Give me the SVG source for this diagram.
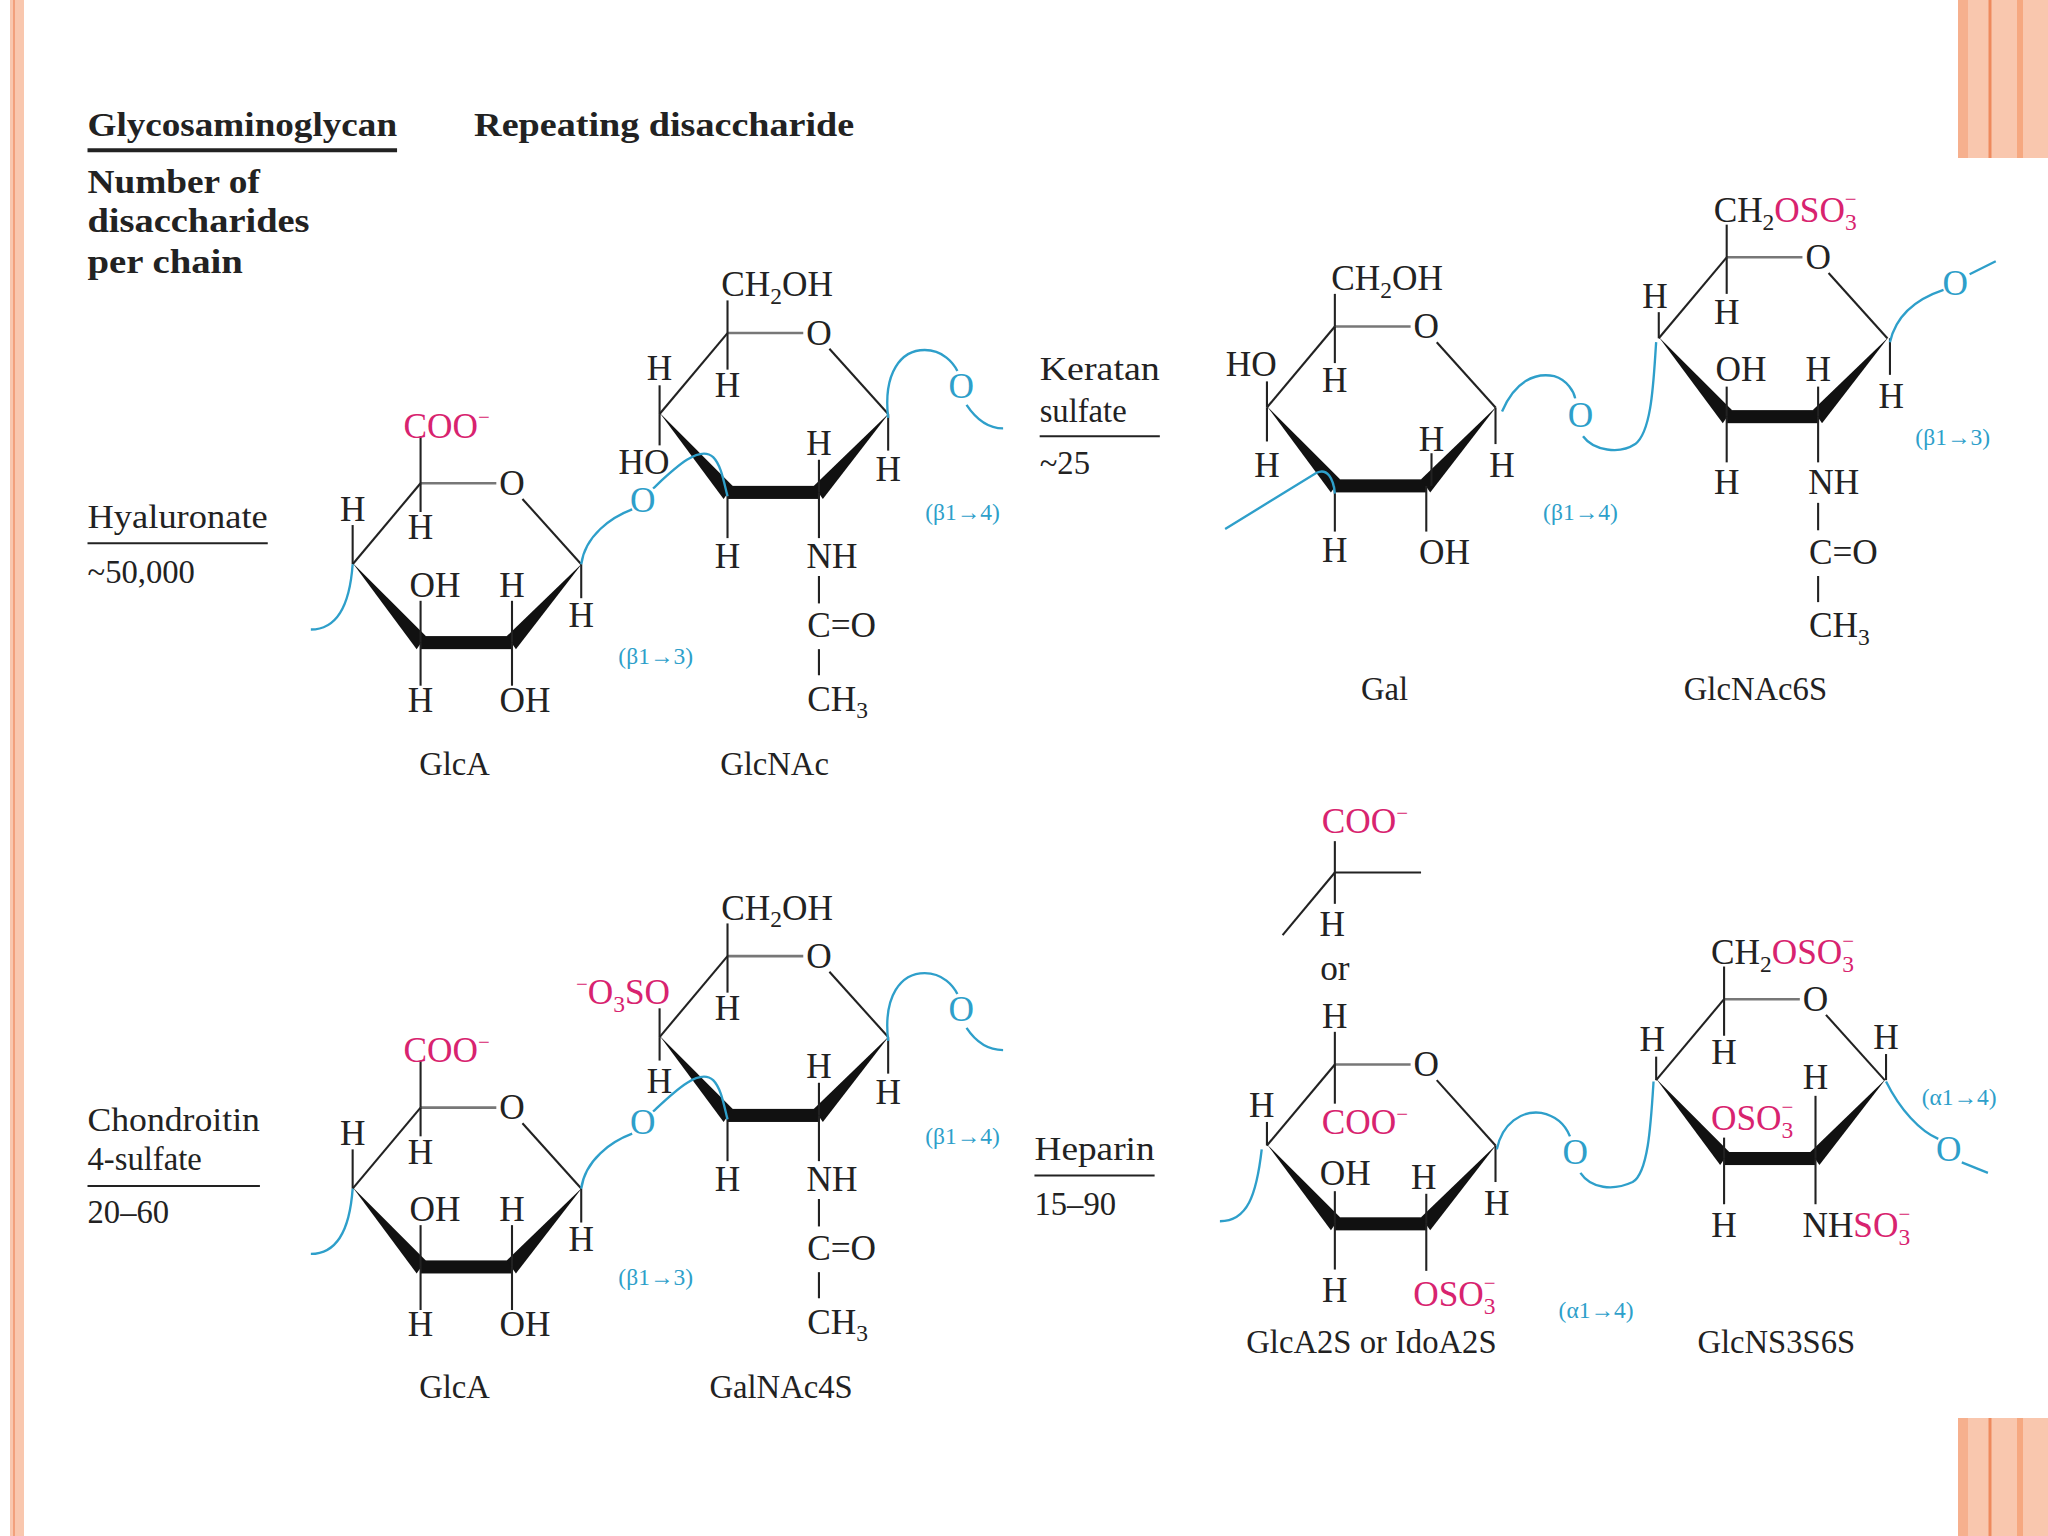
<svg xmlns="http://www.w3.org/2000/svg" xmlns:xlink="http://www.w3.org/1999/xlink" width="2048" height="1536" viewBox="0 0 2048 1536">
<style>
text{font-family:"Liberation Serif","DejaVu Serif",serif;font-size:27px;fill:#222}
.b{font-weight:bold;font-size:25px}
.l{font-size:25px}
.m{fill:#d8236f}
.c{fill:#2e9fca}
.sm{font-size:18px}
.ln{stroke:#222;stroke-width:1.6;fill:none}
.bl{stroke:#2e9fca;stroke-width:1.8;fill:none}
</style>
<defs>
<g id="ring">
<line x1="0" y1="0" x2="58" y2="0" stroke="#777" stroke-width="2"/>
<line x1="78" y1="12" x2="123" y2="62" class="ln"/>
<line x1="0" y1="0" x2="-52" y2="62" class="ln"/>
<polygon points="-52,61 -3,127 4,117" fill="#111"/>
<rect x="0" y="117" width="70" height="10" fill="#111"/>
<polygon points="66,117 73,127 124,61" fill="#111"/>
<text x="70" y="9" text-anchor="middle">O</text>
</g>
</defs>
<rect width="2048" height="1536" fill="#fff"/>
<g id="decor">
<rect x="10" y="0" width="14" height="1536" fill="#f9c7ae"/>
<line x1="14" y1="0" x2="14" y2="1536" stroke="#f2a07c" stroke-width="2"/>
<rect x="1958" y="0" width="90" height="158" fill="#f9c7ae"/>
<rect x="1958" y="0" width="10" height="158" fill="#f6b08e"/>
<line x1="1990" y1="0" x2="1990" y2="158" stroke="#ee8a5e" stroke-width="3"/>
<line x1="2020" y1="0" x2="2020" y2="158" stroke="#f6a880" stroke-width="6"/>
<rect x="1958" y="1418" width="90" height="118" fill="#f9c7ae"/>
<rect x="1958" y="1418" width="10" height="118" fill="#f6b08e"/>
<line x1="1990" y1="1418" x2="1990" y2="1536" stroke="#ee8a5e" stroke-width="3"/>
<line x1="2020" y1="1418" x2="2020" y2="1536" stroke="#f6a880" stroke-width="6"/>
</g>
<g transform="scale(1.30612)">
<g id="headers">
<text x="67" y="104" class="b" textLength="237" lengthAdjust="spacingAndGlyphs">Glycosaminoglycan</text>
<line x1="67" y1="115" x2="304" y2="115" stroke="#222" stroke-width="3"/>
<text x="363" y="104" class="b" textLength="291" lengthAdjust="spacingAndGlyphs">Repeating disaccharide</text>
<text x="67" y="148" class="b" textLength="132" lengthAdjust="spacingAndGlyphs">Number of</text>
<text x="67" y="178" class="b" textLength="170" lengthAdjust="spacingAndGlyphs">disaccharides</text>
<text x="67" y="209" class="b" textLength="119" lengthAdjust="spacingAndGlyphs">per chain</text>
</g>
<g id="names">
<text x="67" y="404" class="l" textLength="138" lengthAdjust="spacingAndGlyphs">Hyaluronate</text>
<line x1="67" y1="416" x2="205" y2="416" stroke="#222" stroke-width="1.5"/>
<text x="67" y="446" class="l">~50,000</text>
<text x="67" y="866" class="l" textLength="132" lengthAdjust="spacingAndGlyphs">Chondroitin</text>
<text x="67" y="896" class="l">4-sulfate</text>
<line x1="67" y1="908" x2="199" y2="908" stroke="#222" stroke-width="1.5"/>
<text x="67" y="936" class="l">20–60</text>
<text x="796" y="291" class="l" textLength="92" lengthAdjust="spacingAndGlyphs">Keratan</text>
<text x="796" y="323" class="l">sulfate</text>
<line x1="796" y1="334" x2="888" y2="334" stroke="#222" stroke-width="1.5"/>
<text x="796" y="363" class="l">~25</text>
<text x="792" y="888" class="l" textLength="92" lengthAdjust="spacingAndGlyphs">Heparin</text>
<line x1="792" y1="900" x2="884" y2="900" stroke="#222" stroke-width="1.5"/>
<text x="792" y="930" class="l">15–90</text>
</g>
<g id="labels" text-anchor="middle">
<text x="348" y="593" class="l">GlcA</text>
<text x="593" y="593" class="l">GlcNAc</text>
<text x="348" y="1070" class="l">GlcA</text>
<text x="598" y="1070" class="l">GalNAc4S</text>
<text x="1060" y="536" class="l">Gal</text>
<text x="1344" y="536" class="l">GlcNAc6S</text>
<text x="1050" y="1036" class="l">GlcA2S or IdoA2S</text>
<text x="1360" y="1036" class="l">GlcNS3S6S</text>
<text x="737" y="398" class="c sm">(β1→4)</text>
<text x="502" y="508" class="c sm">(β1→3)</text>
<text x="737" y="876" class="c sm">(β1→4)</text>
<text x="502" y="984" class="c sm">(β1→3)</text>
<text x="1210" y="398" class="c sm">(β1→4)</text>
<text x="1495" y="341" class="c sm">(β1→3)</text>
<text x="1500" y="846" class="c sm">(α1→4)</text>
<text x="1222" y="1009" class="c sm">(α1→4)</text>
</g>

<g id="glca1" transform="translate(322,370)">
<use href="#ring"/>
<line x1="0" y1="0" x2="0" y2="-36" class="ln"/>
<text x="20" y="-35" class="m" text-anchor="middle">COO<tspan dy="-10" font-size="16">−</tspan></text>
<line x1="-52" y1="62" x2="-52" y2="32" class="ln"/><text x="-52" y="29" text-anchor="middle">H</text>
<line x1="0" y1="0" x2="0" y2="22" class="ln"/><text x="0" y="43" text-anchor="middle">H</text>
<line x1="0" y1="122" x2="0" y2="90" class="ln"/><text x="11" y="87" text-anchor="middle">OH</text>
<line x1="0" y1="122" x2="0" y2="155" class="ln"/><text x="0" y="175" text-anchor="middle">H</text>
<line x1="70" y1="122" x2="70" y2="90" class="ln"/><text x="70" y="87" text-anchor="middle">H</text>
<line x1="70" y1="122" x2="70" y2="155" class="ln"/><text x="80" y="175" text-anchor="middle">OH</text>
<line x1="123" y1="62" x2="123" y2="88" class="ln"/><text x="123" y="110" text-anchor="middle">H</text>
</g>
<g id="glcnac1" transform="translate(557,255)">
<use href="#ring"/>
<line x1="0" y1="0" x2="0" y2="-25" class="ln"/><text x="38" y="-28" text-anchor="middle">CH<tspan dy="6" font-size="18">2</tspan><tspan dy="-6">OH</tspan></text>
<line x1="-52" y1="62" x2="-52" y2="40" class="ln"/><text x="-52" y="36" text-anchor="middle">H</text>
<line x1="0" y1="0" x2="0" y2="28" class="ln"/><text x="0" y="49" text-anchor="middle">H</text>
<line x1="-52" y1="62" x2="-52" y2="86" class="ln"/><text x="-64" y="108" text-anchor="middle">HO</text>
<line x1="0" y1="122" x2="0" y2="157" class="ln"/><text x="0" y="180" text-anchor="middle">H</text>
<line x1="70" y1="122" x2="70" y2="97" class="ln"/><text x="70" y="93" text-anchor="middle">H</text>
<line x1="70" y1="122" x2="70" y2="157" class="ln"/><text x="80" y="180" text-anchor="middle">NH</text>
<line x1="70" y1="186" x2="70" y2="207" class="ln"/><text x="61" y="233">C=O</text>
<line x1="70" y1="242" x2="70" y2="262" class="ln"/><text x="61" y="289">CH<tspan dy="6" font-size="18">3</tspan></text>
<line x1="123" y1="62" x2="123" y2="90" class="ln"/><text x="123" y="113" text-anchor="middle">H</text>
</g>

<g id="glca2" transform="translate(322,848)">
<use href="#ring"/>
<line x1="0" y1="0" x2="0" y2="-36" class="ln"/>
<text x="20" y="-35" class="m" text-anchor="middle">COO<tspan dy="-10" font-size="16">−</tspan></text>
<line x1="-52" y1="62" x2="-52" y2="32" class="ln"/><text x="-52" y="29" text-anchor="middle">H</text>
<line x1="0" y1="0" x2="0" y2="22" class="ln"/><text x="0" y="43" text-anchor="middle">H</text>
<line x1="0" y1="122" x2="0" y2="90" class="ln"/><text x="11" y="87" text-anchor="middle">OH</text>
<line x1="0" y1="122" x2="0" y2="155" class="ln"/><text x="0" y="175" text-anchor="middle">H</text>
<line x1="70" y1="122" x2="70" y2="90" class="ln"/><text x="70" y="87" text-anchor="middle">H</text>
<line x1="70" y1="122" x2="70" y2="155" class="ln"/><text x="80" y="175" text-anchor="middle">OH</text>
<line x1="123" y1="62" x2="123" y2="88" class="ln"/><text x="123" y="110" text-anchor="middle">H</text>
</g>
<g id="galnac4s" transform="translate(557,732)">
<use href="#ring"/>
<line x1="0" y1="0" x2="0" y2="-25" class="ln"/><text x="38" y="-28" text-anchor="middle">CH<tspan dy="6" font-size="18">2</tspan><tspan dy="-6">OH</tspan></text>
<line x1="-52" y1="62" x2="-52" y2="40" class="ln"/><text x="-80" y="37" text-anchor="middle" class="m"><tspan font-size="16" dy="-10">−</tspan><tspan dy="10">O</tspan><tspan dy="6" font-size="18">3</tspan><tspan dy="-6">SO</tspan></text>
<line x1="0" y1="0" x2="0" y2="28" class="ln"/><text x="0" y="49" text-anchor="middle">H</text>
<line x1="-52" y1="62" x2="-52" y2="80" class="ln"/><text x="-52" y="105" text-anchor="middle">H</text>
<line x1="0" y1="122" x2="0" y2="157" class="ln"/><text x="0" y="180" text-anchor="middle">H</text>
<line x1="70" y1="122" x2="70" y2="97" class="ln"/><text x="70" y="93" text-anchor="middle">H</text>
<line x1="70" y1="122" x2="70" y2="157" class="ln"/><text x="80" y="180" text-anchor="middle">NH</text>
<line x1="70" y1="186" x2="70" y2="207" class="ln"/><text x="61" y="233">C=O</text>
<line x1="70" y1="242" x2="70" y2="262" class="ln"/><text x="61" y="289">CH<tspan dy="6" font-size="18">3</tspan></text>
<line x1="123" y1="62" x2="123" y2="90" class="ln"/><text x="123" y="113" text-anchor="middle">H</text>
</g>

<g id="gal" transform="translate(1022,250)">
<use href="#ring"/>
<line x1="0" y1="0" x2="0" y2="-25" class="ln"/><text x="40" y="-28" text-anchor="middle">CH<tspan dy="6" font-size="18">2</tspan><tspan dy="-6">OH</tspan></text>
<line x1="-52" y1="62" x2="-52" y2="42" class="ln"/><text x="-64" y="38" text-anchor="middle">HO</text>
<line x1="0" y1="0" x2="0" y2="28" class="ln"/><text x="0" y="50" text-anchor="middle">H</text>
<line x1="-52" y1="62" x2="-52" y2="88" class="ln"/><text x="-52" y="115" text-anchor="middle">H</text>
<line x1="0" y1="122" x2="0" y2="157" class="ln"/><text x="0" y="180" text-anchor="middle">H</text>
<line x1="74" y1="122" x2="74" y2="97" class="ln"/><text x="74" y="95" text-anchor="middle">H</text>
<line x1="70" y1="122" x2="70" y2="157" class="ln"/><text x="84" y="182" text-anchor="middle">OH</text>
<line x1="123" y1="62" x2="123" y2="90" class="ln"/><text x="128" y="115" text-anchor="middle">H</text>
</g>
<g id="glcnac6s" transform="translate(1322,197)">
<use href="#ring"/>
<line x1="0" y1="0" x2="0" y2="-25" class="ln"/><text x="-10" y="-27">CH<tspan dy="6" font-size="18">2</tspan><tspan dy="-6" class="m">OSO</tspan><tspan dy="6" font-size="18" class="m">3</tspan><tspan dx="-9" dy="-18" font-size="16" class="m">−</tspan></text>
<line x1="-52" y1="62" x2="-52" y2="42" class="ln"/><text x="-55" y="39" text-anchor="middle">H</text>
<line x1="0" y1="0" x2="0" y2="28" class="ln"/><text x="0" y="51" text-anchor="middle">H</text>
<line x1="0" y1="122" x2="0" y2="99" class="ln"/><text x="11" y="95" text-anchor="middle">OH</text>
<line x1="0" y1="122" x2="0" y2="157" class="ln"/><text x="0" y="181" text-anchor="middle">H</text>
<line x1="70" y1="122" x2="70" y2="99" class="ln"/><text x="70" y="95" text-anchor="middle">H</text>
<line x1="70" y1="122" x2="70" y2="157" class="ln"/><text x="82" y="181" text-anchor="middle">NH</text>
<line x1="70" y1="188" x2="70" y2="209" class="ln"/><text x="63" y="235">C=O</text>
<line x1="70" y1="244" x2="70" y2="264" class="ln"/><text x="63" y="291">CH<tspan dy="6" font-size="18">3</tspan></text>
<line x1="125" y1="62" x2="125" y2="90" class="ln"/><text x="126" y="115" text-anchor="middle">H</text>
</g>

<g id="idoa2s" transform="translate(1022,815)">
<use href="#ring"/>
<line x1="0" y1="-25" x2="0" y2="30" class="ln"/><text x="0" y="-28" text-anchor="middle">H</text>
<text x="23" y="53" class="m" text-anchor="middle">COO<tspan dy="-10" font-size="16">−</tspan></text>
<line x1="-52" y1="62" x2="-52" y2="44" class="ln"/><text x="-56" y="40" text-anchor="middle">H</text>
<line x1="0" y1="122" x2="0" y2="97" class="ln"/><text x="8" y="92" text-anchor="middle">OH</text>
<line x1="70" y1="122" x2="70" y2="99" class="ln"/><text x="68" y="95" text-anchor="middle">H</text>
<line x1="0" y1="122" x2="0" y2="157" class="ln"/><text x="0" y="182" text-anchor="middle">H</text>
<line x1="70" y1="122" x2="70" y2="158" class="ln"/><text x="60" y="185" class="m">OSO<tspan dy="6" font-size="18">3</tspan><tspan dx="-9" dy="-18" font-size="16">−</tspan></text>
<line x1="123" y1="62" x2="123" y2="90" class="ln"/><text x="124" y="115" text-anchor="middle">H</text>
</g>
<g id="alt-fragment">
<text x="1045" y="638" class="m" text-anchor="middle">COO<tspan dy="-10" font-size="16">−</tspan></text>
<line x1="1022" y1="644" x2="1022" y2="692" class="ln"/>
<line x1="1022" y1="668" x2="1088" y2="668" class="ln"/>
<line x1="1022" y1="668" x2="982" y2="716" class="ln"/>
<text x="1020" y="717" text-anchor="middle">H</text>
<text x="1022" y="750" text-anchor="middle">or</text>
</g>
<g id="glcns3s6s" transform="translate(1320,765)">
<use href="#ring"/>
<line x1="0" y1="0" x2="0" y2="-25" class="ln"/><text x="-10" y="-27">CH<tspan dy="6" font-size="18">2</tspan><tspan dy="-6" class="m">OSO</tspan><tspan dy="6" font-size="18" class="m">3</tspan><tspan dx="-9" dy="-18" font-size="16" class="m">−</tspan></text>
<line x1="-52" y1="62" x2="-52" y2="44" class="ln"/><text x="-55" y="40" text-anchor="middle">H</text>
<line x1="0" y1="0" x2="0" y2="28" class="ln"/><text x="0" y="50" text-anchor="middle">H</text>
<line x1="0" y1="122" x2="0" y2="106" class="ln"/><text x="-10" y="100" class="m">OSO<tspan dy="6" font-size="18">3</tspan><tspan dx="-9" dy="-18" font-size="16">−</tspan></text>
<line x1="70" y1="122" x2="70" y2="74" class="ln"/><text x="70" y="69" text-anchor="middle">H</text>
<line x1="124" y1="62" x2="124" y2="42" class="ln"/><text x="124" y="38" text-anchor="middle">H</text>
<line x1="0" y1="122" x2="0" y2="157" class="ln"/><text x="0" y="182" text-anchor="middle">H</text>
<line x1="70" y1="122" x2="70" y2="157" class="ln"/><text x="60" y="182">NH<tspan class="m">SO</tspan><tspan dy="6" font-size="18" class="m">3</tspan><tspan dx="-9" dy="-18" font-size="16" class="m">−</tspan></text>
</g>

<g id="connectors">
<path class="bl" d="M238,482 C260,482 268,460 270,432"/>
<path class="bl" d="M445,432 C448,410 468,396 484,390"/>
<text x="492" y="392" class="c" text-anchor="middle">O</text>
<path class="bl" d="M500,374 C515,360 535,340 546,350 C552,356 554,368 557,380"/>
<path class="bl" d="M680,320 C676,285 690,268 708,268 C722,268 730,278 733,284"/>
<text x="736" y="305" class="c" text-anchor="middle">O</text>
<path class="bl" d="M740,310 C748,322 758,328 768,328"/>
<path class="bl" d="M238,960 C260,960 268,938 270,910"/>
<path class="bl" d="M445,910 C448,888 468,874 484,868"/>
<text x="492" y="868" class="c" text-anchor="middle">O</text>
<path class="bl" d="M500,851 C515,837 535,817 546,827 C552,833 554,845 557,857"/>
<path class="bl" d="M680,797 C676,762 690,745 708,745 C722,745 730,755 733,761"/>
<text x="736" y="782" class="c" text-anchor="middle">O</text>
<path class="bl" d="M740,787 C748,799 758,804 768,804"/>
<path class="bl" d="M938,405 L1008,362 C1016,358 1021,366 1022,378"/>
<path class="bl" d="M1150,315 C1160,292 1175,285 1190,288 C1200,291 1205,300 1206,305"/>
<text x="1210" y="327" class="c" text-anchor="middle">O</text>
<path class="bl" d="M1212,334 C1220,345 1240,348 1252,340 C1265,330 1266,290 1268,262"/>
<path class="bl" d="M1447,262 C1452,240 1470,228 1488,222"/>
<text x="1497" y="226" class="c" text-anchor="middle">O</text>
<path class="bl" d="M1508,210 L1528,200"/>
<path class="bl" d="M934,935 C955,935 962,915 966,880"/>
<path class="bl" d="M1146,880 C1150,860 1165,850 1180,852 C1195,855 1200,865 1202,870"/>
<text x="1206" y="891" class="c" text-anchor="middle">O</text>
<path class="bl" d="M1210,898 C1218,910 1235,912 1250,905 C1262,898 1264,860 1266,828"/>
<path class="bl" d="M1444,828 C1455,850 1470,866 1484,872"/>
<text x="1492" y="889" class="c" text-anchor="middle">O</text>
<path class="bl" d="M1502,890 L1522,898"/>
</g>
</g>
</svg>
